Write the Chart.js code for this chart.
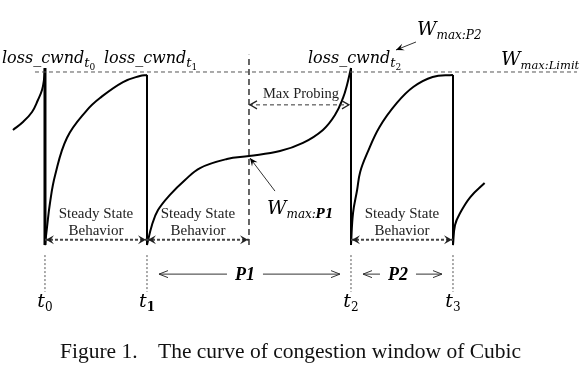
<!DOCTYPE html>
<html>
<head>
<meta charset="utf-8">
<script src="https://cdn.jsdelivr.net/npm/chart.js@4"></script>
<style>
  html, body { margin: 0; padding: 0; background: #fff; }
  #wrap { width: 586px; height: 366px; }
</style>
</head>
<body>
<div id="wrap"><canvas id="cwndChart" width="586" height="366"></canvas></div>
<script>
// time axis: t0 = 0, t1 = 1, max probing = 2, t2 = 3, t3 = 4 ; cwnd axis: W_max:Limit = 1
const tPos = [0, 1, 3, 4];
const tNames = ["0", "1", "2", "3"];
const dropTops = [1.023, 0.983, 1.023, 0.983];

const curveBefore = [[-0.314, 0.665], [-0.216, 0.711], [-0.127, 0.769], [-0.069, 0.838], [-0.029, 0.896], [-0.010, 0.954], [0, 1.023]];
const curveT0 = [[0, 0], [0.020, 0.104], [0.049, 0.243], [0.098, 0.400], [0.216, 0.620], [0.412, 0.780], [0.539, 0.850], [0.765, 0.942], [0.931, 0.977], [1.0, 0.983]];
const curveT1 = [[1.0, 0], [1.049, 0.116], [1.108, 0.202], [1.225, 0.290], [1.373, 0.376], [1.520, 0.445], [1.784, 0.497], [2.0, 0.514], [2.304, 0.543], [2.529, 0.590], [2.725, 0.665], [2.843, 0.751], [2.922, 0.850], [2.961, 0.925], [3.0, 1.023]];
const curveT2 = [[3.0, 0], [3.02, 0.185], [3.06, 0.318], [3.09, 0.422], [3.16, 0.532], [3.28, 0.682], [3.45, 0.821], [3.61, 0.913], [3.80, 0.971], [4.0, 0.983]];
const curveAfter = [[4.0, 0], [4.02, 0.116], [4.07, 0.185], [4.17, 0.277], [4.31, 0.358]];

const wMaxLimit = 1.0;
const limitSpan = [-0.098, 5.216];
const probeX = 2.0;
const probeTop = 1.10;
const probeArrowY = 0.81;
const wMaxP1 = [2.0, 0.514];

const steadySpans = [[0, 1], [1, 2], [3, 4]];
const steadyY = 0.03;
const periodNames = ["P1", "P2"];
const periodSpans = [[1, 3], [3, 4]];
const tickLineSpan = [-0.058, -0.27];

const pts = arr => arr.map(p => ({ x: p[0], y: p[1] }));

const curve = (arr, w) => ({
    data: pts(arr), showLine: true, borderColor: "#000", borderWidth: w || 2,
    pointRadius: 0, tension: 0.4, fill: false
});
const seg = (arr, opts) => Object.assign({
    data: pts(arr), showLine: true, borderColor: "#000", borderWidth: 2,
    pointRadius: 0, tension: 0, fill: false
}, opts);

const datasets = [
    seg([[limitSpan[0], wMaxLimit], [limitSpan[1], wMaxLimit]], { borderColor: "#555", borderWidth: 1, borderDash: [4, 3] }),
    seg([[probeX, 0], [probeX, probeTop]], { borderColor: "#333", borderWidth: 1.5, borderDash: [6, 4] }),
    seg([[probeX, probeArrowY], [tPos[2] - 0.02, probeArrowY]], { borderColor: "#333", borderWidth: 1, borderDash: [4, 3] }),
    ...steadySpans.map(s => seg([[s[0], steadyY], [s[1], steadyY]], { borderColor: "#444", borderWidth: 2, borderDash: [3, 2] })),
    ...tPos.map(t => seg([[t, tickLineSpan[0]], [t, tickLineSpan[1]]], { borderColor: "#555", borderWidth: 1, borderDash: [2, 2] })),
    ...tPos.map((t, i) => seg([[t, 0], [t, dropTops[i]]], { borderWidth: i === 0 ? 3 : 2 })),
    curve(curveBefore), curve(curveT0), curve(curveT1), curve(curveT2), curve(curveAfter)
];

function arrowHead(ctx, x, y, ang, len, half, filled) {
    ctx.save();
    ctx.translate(x, y);
    ctx.rotate(ang);
    ctx.beginPath();
    ctx.moveTo(-len, -half);
    ctx.lineTo(0, 0);
    ctx.lineTo(-len, half);
    if (filled) { ctx.lineTo(-len * 0.6, 0); ctx.closePath(); ctx.fill(); }
    else ctx.stroke();
    ctx.restore();
}

// main text + subscript parts [[text, font, dy], ...]
function richText(ctx, x, y, parts, align) {
    let w = 0;
    parts.forEach(p => { ctx.font = p[1]; w += ctx.measureText(p[0]).width; });
    let cx = align === "center" ? x - w / 2 : x;
    ctx.textAlign = "left";
    parts.forEach(p => {
        ctx.font = p[1];
        ctx.fillText(p[0], cx, y + (p[2] || 0));
        cx += ctx.measureText(p[0]).width;
    });
    return w;
}

const SERIF = '"Liberation Serif", "DejaVu Serif", serif';
const MATH = '"DejaVu Serif", serif';

const annotations = {
    id: "annotations",
    afterDatasetsDraw(chart) {
        const ctx = chart.ctx;
        const X = v => chart.scales.x.getPixelForValue(v);
        const Y = v => chart.scales.y.getPixelForValue(v);
        ctx.save();
        ctx.fillStyle = "#000";
        ctx.strokeStyle = "#000";
        ctx.textBaseline = "alphabetic";

        // steady state arrows + labels
        ctx.fillStyle = "#222";
        steadySpans.forEach(s => {
            arrowHead(ctx, X(s[0]) + 1, Y(steadyY), Math.PI, 8, 4.5, true);
            arrowHead(ctx, X(s[1]) - 1, Y(steadyY), 0, 8, 4.5, true);
            const cx = X((s[0] + s[1]) / 2);
            ctx.font = "15px " + SERIF;
            ctx.textAlign = "center";
            ctx.fillText("Steady State", cx, Y(steadyY) - 22);
            ctx.fillText("Behavior", cx, Y(steadyY) - 5);
        });

        // max probing
        ctx.strokeStyle = "#222";
        ctx.lineWidth = 1.2;
        arrowHead(ctx, X(probeX) + 1, Y(probeArrowY), Math.PI, 7, 4, false);
        arrowHead(ctx, X(tPos[2]) - 2, Y(probeArrowY), 0, 7, 4, false);
        ctx.fillStyle = "#222";
        ctx.font = "14.5px " + SERIF;
        ctx.textAlign = "center";
        ctx.fillText("Max Probing", (X(probeX) + X(tPos[2])) / 2 + 1, Y(probeArrowY) - 7);

        // W_max:P1 pointer
        ctx.fillStyle = "#000";
        ctx.strokeStyle = "#333";
        ctx.lineWidth = 1;
        const px = X(wMaxP1[0]) + 1, py = Y(wMaxP1[1]) + 2;
        ctx.beginPath(); ctx.moveTo(px + 25, py + 33); ctx.lineTo(px, py); ctx.stroke();
        arrowHead(ctx, px, py, Math.atan2(-33, -25), 8, 3.5, true);
        richText(ctx, px + 17, py + 56, [
            ["W", "italic 19px " + MATH],
            ["max:", "italic 12px " + MATH, 4],
            ["P1", "italic bold 12px " + MATH, 4]
        ]);

        // W_max:P2 pointer
        const qx = X(tPos[2]) + 45, qy = Y(wMaxLimit) - 22;
        ctx.beginPath(); ctx.moveTo(qx + 20, qy - 8); ctx.lineTo(qx, qy); ctx.stroke();
        arrowHead(ctx, qx, qy, Math.atan2(8, -20), 8, 3.5, true);
        richText(ctx, qx + 21, qy - 15, [
            ["W", "italic 19px " + MATH],
            ["max:P2", "italic 12px " + MATH, 4]
        ]);

        // W_max:Limit
        richText(ctx, X(limitSpan[1]) - 76, Y(wMaxLimit) - 7, [
            ["W", "italic 19px " + MATH],
            ["max:Limit", "italic 11.5px " + MATH, 4]
        ]);

        // loss_cwnd labels
        [0, 1, 2].forEach(i => {
            richText(ctx, X(tPos[i]) - 43, Y(wMaxLimit) - 9, [
                ["loss_cwnd", "italic 16px " + MATH],
                ["t", "italic 13px " + MATH, 4],
                [tNames[i], "9px " + MATH, 7]
            ]);
        });

        // time labels
        tPos.forEach((t, i) => {
            richText(ctx, X(t), Y(-0.36), [
                ["t", "italic 19px " + MATH],
                [tNames[i], (i === 1 ? "bold " : "") + "12px " + MATH, 4]
            ], "center");
        });

        // period arrows
        ctx.strokeStyle = "#333";
        ctx.fillStyle = "#000";
        ctx.lineWidth = 1;
        const pY = Y(-0.168);
        periodSpans.forEach((s, i) => {
            const cx = X((s[0] + s[1]) / 2) - 4;
            ctx.font = "italic bold 18px " + SERIF;
            const w = ctx.measureText(periodNames[i]).width;
            ctx.textAlign = "center";
            ctx.fillText(periodNames[i], cx, pY + 6);
            const l0 = X(s[0]) + 12, l1 = cx - w / 2 - 8;
            const r0 = cx + w / 2 + 8, r1 = X(s[1]) - 11;
            ctx.beginPath();
            ctx.moveTo(l0, pY); ctx.lineTo(l1, pY);
            ctx.moveTo(r0, pY); ctx.lineTo(r1, pY);
            ctx.stroke();
            arrowHead(ctx, l0, pY, Math.PI, 9, 3.5, false);
            arrowHead(ctx, r1, pY, 0, 9, 3.5, false);
        });

        // caption
        ctx.fillStyle = "#111";
        ctx.font = "21.5px " + SERIF;
        ctx.textAlign = "left";
        ctx.fillText("Figure 1.", 60, 358);
        ctx.fillText("The curve of congestion window of Cubic", 158, 358);
        ctx.restore();
    }
};

new Chart(document.getElementById("cwndChart").getContext("2d"), {
    type: "scatter",
    data: { datasets: datasets },
    options: {
        responsive: false,
        animation: false,
        devicePixelRatio: 1,
        layout: { padding: 0 },
        plugins: { legend: { display: false }, tooltip: { enabled: false } },
        scales: {
            x: { type: "linear", display: false, min: -0.441, max: 5.304 },
            y: { type: "linear", display: false, min: -0.699, max: 1.416 }
        }
    },
    plugins: [annotations]
});
</script>
</body>
</html>
